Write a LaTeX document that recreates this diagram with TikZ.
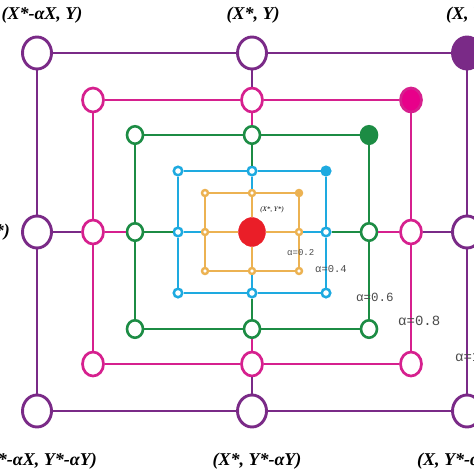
\documentclass[tikz,border=0pt]{standalone}
\usepackage{fontspec}
\setmainfont{Liberation Serif}
\newfontfamily\monofont{Liberation Mono}
\usetikzlibrary{shapes.geometric}

\definecolor{purpleC}{RGB}{122,42,135}
\definecolor{magentaC}{RGB}{214,32,142}
\definecolor{magentaF}{RGB}{232,0,138}
\definecolor{greenC}{RGB}{28,140,68}
\definecolor{blueC}{RGB}{30,170,224}
\definecolor{orangeC}{RGB}{236,178,82}
\definecolor{redC}{RGB}{234,30,40}
\definecolor{labelC}{RGB}{75,75,75}

\begin{document}
\begin{tikzpicture}[x=1pt,y=-1pt,
        dot/.style={ellipse,draw,fill=white,inner sep=0pt},
        lbl/.style={inner sep=0pt,font=\bfseries\itshape\fontsize{18}{18}\selectfont},
        alab/.style={inner sep=0pt,anchor=west,text=labelC}]
            \useasboundingbox (0,0) rectangle (474,474);
            \node[dot,draw=redC,fill=redC,minimum width=27,minimum height=29,
                alias=L0-t,alias=L0-b,alias=L0-l,alias=L0-r] (c) at (252,232) {};
            % level/half width/half height/colour/fill/dot size/line
            \foreach \k/\w/\h/\col/\fil/\dw/\dh/\lw in {1/47/39/orangeC/orangeC/6/6/2.4,
                    2/74/61/blueC/blueC/8.5/8.5/2.5, 3/117/97/greenC/greenC/16/17.5/2.6,
                    4/159/132/magentaC/magentaF/21/24/2.7, 5/215/179/purpleC/purpleC/29/32/2.9}{
                \begin{scope}[every node/.style={dot,draw=\col,line width=\lw pt,minimum width=\dw,minimum height=\dh}]
                    \node (L\k-tl) at (252-\w,232-\h) {};
                    \node (L\k-t) at (252,232-\h) {};
                    \node[fill=\fil] (L\k-tr) at (252+\w,232-\h) {};
                    \node (L\k-l) at (252-\w,232) {};
                    \node (L\k-r) at (252+\w,232) {};
                    \node (L\k-bl) at (252-\w,232+\h) {};
                    \node (L\k-b) at (252,232+\h) {};
                    \node (L\k-br) at (252+\w,232+\h) {};
                \end{scope}
                \pgfmathtruncatemacro\j{\k-1}
                \draw[\col,line width=\lw pt] (L\k-tl) -- (L\k-t) -- (L\k-tr) -- (L\k-r)
                    -- (L\k-br) -- (L\k-b) -- (L\k-bl) -- (L\k-l) -- (L\k-tl);
                \foreach \d in {t,b,l,r}
                    \draw[\col,line width=\lw pt] (L\k-\d) -- (L\j-\d);
            }
            \node[inner sep=0pt,font=\itshape\fontsize{7}{7}\selectfont] (cl) at (272,210) {(X*, Y*)};
            \node[alab,font=\monofont\fontsize{9}{9}\selectfont] (a1) at (287,253) {α=0.2};
            \node[alab,font=\monofont\fontsize{10.5}{10.5}\selectfont] (a2) at (315,269) {α=0.4};
            \node[alab,font=\monofont\fontsize{12.5}{12.5}\selectfont] (a3) at (356,297) {α=0.6};
            \node[alab,font=\monofont\fontsize{14}{14}\selectfont] (a4) at (398,321) {α=0.8};
            \node[alab,font=\monofont\fontsize{14}{14}\selectfont] (a5) at (455,357) {α=1};
            \node[lbl] (t1) at (42,15) {(X*-αX, Y)};
            \node[lbl] (t2) at (253,15) {(X*, Y)};
            \node[lbl,anchor=west] (t3) at (446,15) {(X, Y)};
            \node[lbl,anchor=east] (m1) at (10,232) {(X*-αX, Y*)};
            \node[lbl,anchor=east] (b1) at (97,461) {(X*-αX, Y*-αY)};
            \node[lbl] (b2) at (257,461) {(X*, Y*-αY)};
            \node[lbl,anchor=west] (b3) at (417,461) {(X, Y*-αY)};
        \end{tikzpicture}
\end{document}
